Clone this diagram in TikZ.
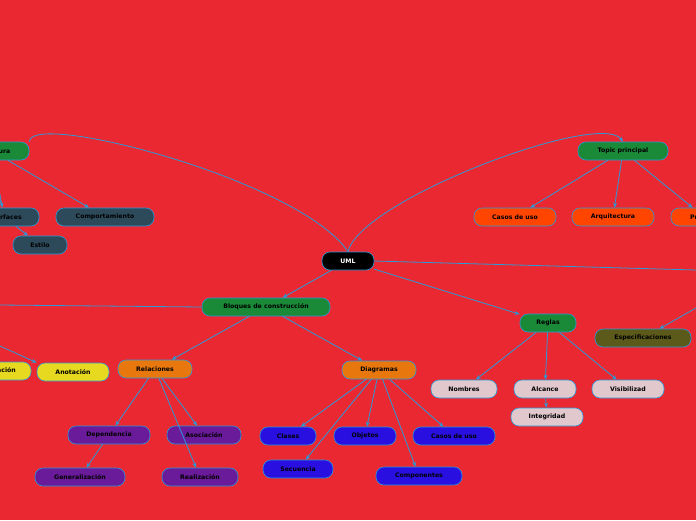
\documentclass[tikz,border=0pt]{standalone}
\usepackage{fontspec}
\setmainfont{DejaVu Sans}
\usetikzlibrary{arrows.meta}
\definecolor{bg}{HTML}{EA2832}
\definecolor{ln}{HTML}{2A9AD8}
\definecolor{gr}{HTML}{1B8A38}
\definecolor{orr}{HTML}{E8780E}
\definecolor{ye}{HTML}{E6D91F}
\definecolor{pu}{HTML}{6A1B9A}
\definecolor{bl}{HTML}{2A10E0}
\definecolor{pk}{HTML}{E0C8CC}
\definecolor{ol}{HTML}{5C5A1A}
\definecolor{rd}{HTML}{FF4500}
\definecolor{sl}{HTML}{2D4A5A}
\tikzset{
 box/.style={draw=ln,line width=0.6pt,rounded corners=8pt,minimum height=18pt,inner sep=0pt,font=\bfseries\fontsize{6.2}{7}\selectfont,text=black},
 con/.style={draw=ln,line width=0.8pt,-{Stealth[length=5pt,width=4pt]}},
 lin/.style={draw=ln,line width=0.8pt}
}
\begin{document}
\begin{tikzpicture}[x=1pt,y=-1pt]
\useasboundingbox (0,0) rectangle (696,520);
\clip (0,0) rectangle (696,520);
\fill[bg] (0,0) rectangle (696,520);
\node[box,fill=black,text=white,minimum width=52pt] (uml) at (348,261) {UML};
\node[box,fill=gr,minimum width=128pt] (blo) at (266,307) {Bloques de construcción};
\node[box,fill=orr,minimum width=74pt] (rel) at (155,369) {Relaciones};
\node[box,fill=orr,minimum width=74pt] (dia) at (379,370) {Diagramas};
\node[box,fill=ye,minimum width=72pt] (ano) at (73,372) {Anotación};
\node[box,fill=ye,minimum width=70pt] (agr) at (-4,371) {Agrupación};
\node[box,fill=pu,minimum width=82pt] (dep) at (109,435) {Dependencia};
\node[box,fill=pu,minimum width=74pt] (aso) at (204,435) {Asociación};
\node[box,fill=pu,minimum width=90pt] (gen) at (80,477) {Generalización};
\node[box,fill=pu,minimum width=76pt] (rea) at (200,477) {Realización};
\node[box,fill=bl,minimum width=56pt] (cla) at (288,436) {Clases};
\node[box,fill=bl,minimum width=62pt] (obj) at (365,436) {Objetos};
\node[box,fill=bl,minimum width=82pt] (cdu) at (454,436) {Casos de uso};
\node[box,fill=bl,minimum width=70pt] (sec) at (298,469) {Secuencia};
\node[box,fill=bl,minimum width=86pt] (com) at (419,476) {Componentes};
\node[box,fill=gr,minimum width=56pt] (reg) at (548,323) {Reglas};
\node[box,fill=pk,minimum width=66pt] (nom) at (464,389) {Nombres};
\node[box,fill=pk,minimum width=62pt] (alc) at (545,389) {Alcance};
\node[box,fill=pk,minimum width=72pt] (int) at (547,417) {Integridad};
\node[box,fill=pk,minimum width=72pt] (vis) at (628,389) {Visibilizad};
\node[box,fill=ol,minimum width=96pt] (esp) at (643,338) {Especificaciones};
\node[box,fill=gr,minimum width=90pt] (top) at (623,151) {Topic principal};
\node[box,fill=rd,minimum width=82pt] (cas) at (515,217) {Casos de uso};
\node[box,fill=rd,minimum width=82pt] (arq) at (613,217) {Arquitectura};
\node[box,fill=rd,minimum width=66pt] (pro) at (704,217) {Proceso};
\node[box,fill=gr,minimum width=74pt] (est) at (-8,151) {Estructura};
\node[box,fill=sl,minimum width=70pt] (itf) at (4,217) {Interfaces};
\node[box,fill=sl,minimum width=98pt] (cmp) at (105,217) {Comportamiento};
\node[box,fill=sl,minimum width=54pt] (sty) at (40,245) {Estilo};
\coordinate (r1) at (696,270);
\coordinate (l1) at (0,305);
\coordinate (l2) at (0,346);
\coordinate (r2) at (696,308);
\coordinate (l3) at (0,205);
\draw[con] (uml) -- (blo);
\draw[con] (uml) -- (reg);
\draw[con] (uml.north) .. controls (360,200) and (600,110) .. (top.north);
\draw[lin] (uml.north) .. controls (300,180) and (30,110) .. (est.north east);
\draw[lin] (uml.east) -- (r1);
\draw[lin] (blo.west) -- (l1);
\draw[con] (l2) -- (ano.north west);
\draw[con] (blo) -- (rel);
\draw[con] (blo) -- (dia);
\draw[con] (top) -- (cas);
\draw[con] (top) -- (arq);
\draw[con] (top) -- (pro);
\draw[con] (reg) -- (nom);
\draw[con] (reg) -- (alc);
\draw[con] (reg) -- (vis);
\draw[con] (alc) -- (int);
\draw[con] (r2) -- (esp);
\draw[con] (est) -- (itf);
\draw[con] (est) -- (cmp);
\draw[con] (itf) -- (sty);
\draw[con] (est.south) -- (l3);
\draw[con] (rel) -- (dep);
\draw[con] (rel) -- (aso);
\draw[con] (rel) -- (rea);
\draw[con] (dep) -- (gen);
\draw[con] (dia) -- (cla);
\draw[con] (dia) -- (obj);
\draw[con] (dia) -- (cdu);
\draw[con] (dia) -- (sec);
\draw[con] (dia) -- (com);
\end{tikzpicture}
\end{document}
